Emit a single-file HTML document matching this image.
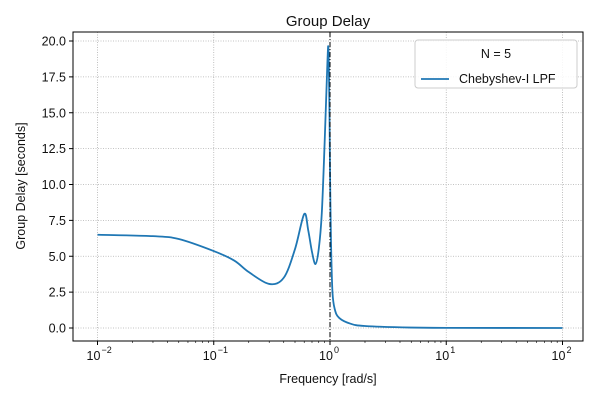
<!DOCTYPE html>
<html><head><meta charset="utf-8"><style>
body{margin:0;background:#fff;}
svg text{font-family:"Liberation Sans","DejaVu Sans",sans-serif;fill:#111;}
</style></head><body>
<svg id="c" width="600" height="400" xmlns="http://www.w3.org/2000/svg"></svg>
<script>
const freqs=[0.01,0.03,0.05,0.1,0.15,0.2,0.3,0.4,0.5,0.6,0.65,0.7,0.75,0.8,0.85,0.9,0.95,0.97,0.99,1.0,1.02,1.05,1.1,1.2,1.5,2,5,10,100];
const delays=[6.5,6.4,6.2,5.36,4.7,3.9,3.07,3.5,5.5,7.94,6.8,5.3,4.46,5.5,8,13,18.5,19.37,15,11,6,2.5,1.3,0.7,0.3,0.14,0.03,0.01,0];
const yTicks=[0,2.5,5,7.5,10,12.5,15,17.5,20];
const yTickLabels=["0.0","2.5","5.0","7.5","10.0","12.5","15.0","17.5","20.0"];
const xDecades=[-2,-1,0,1,2];
const NS="http://www.w3.org/2000/svg";
const svg=document.getElementById('c');
const L=73,R=583,T=32,B=341;
const X=f=>330+Math.log10(f)*116.25;
const Y=v=>328-v*14.35;
function mk(tag,attrs,parent){const e=document.createElementNS(NS,tag);for(const k in attrs)e.setAttribute(k,attrs[k]);(parent||svg).appendChild(e);return e;}
const grid=mk('g',{});


xDecades.forEach(d=>{mk('line',{x1:X(10**d),x2:X(10**d),y1:T,y2:B,stroke:'#b0b0b0','stroke-width':0.8,'stroke-dasharray':'1,1.5'},grid);});
yTicks.forEach(v=>{mk('line',{x1:L,x2:R,y1:Y(v),y2:Y(v),stroke:'#b0b0b0','stroke-width':0.8,'stroke-dasharray':'1,1.5'},grid);});
const xt=mk('g',{});


xDecades.forEach(d=>{const x=X(10**d);mk('line',{x1:x,x2:x,y1:B,y2:B+4,stroke:'#000'},xt);
 const t=mk('text',{x:x-4,y:B+19,'font-size':12.5,'text-anchor':'middle'},xt);t.textContent='10';
 const s=mk('text',{x:x+4,y:B+12,'font-size':9,'text-anchor':'start'},xt);s.textContent=String(d).replace('-','−');
 for(let k=2;k<10&&d<2;k++){const xm=X(k*10**d);mk('line',{x1:xm,x2:xm,y1:B,y2:B+2,stroke:'#000','stroke-width':0.6},xt);}
});
const yt=mk('g',{});


yTicks.forEach((v,i)=>{const y=Y(v);mk('line',{x1:L-4,x2:L,y1:y,y2:y,stroke:'#000'},yt);
 const t=mk('text',{x:L-7,y:y+4.5,'font-size':12.5,'text-anchor':'end'},yt);t.textContent=yTickLabels[i];});
const pts=freqs.map((f,i)=>[X(f),Y(delays[i])]);
let d=`M${pts[0][0]},${pts[0][1]}`;
for(let i=0;i<pts.length-1;i++){const p0=pts[Math.max(0,i-1)],p1=pts[i],p2=pts[i+1],p3=pts[Math.min(pts.length-1,i+2)];
 const c1=[p1[0]+(p2[0]-p0[0])/6,p1[1]+(p2[1]-p0[1])/6],c2=[p2[0]-(p3[0]-p1[0])/6,p2[1]-(p3[1]-p1[1])/6];
 d+=` C${c1[0]},${c1[1]} ${c2[0]},${c2[1]} ${p2[0]},${p2[1]}`;}
const line=mk('path',{d:d,fill:'none',stroke:'#1f77b4','stroke-width':1.8});


const vl=mk('line',{x1:X(1),x2:X(1),y1:T,y2:B,stroke:'#000','stroke-width':1,'stroke-dasharray':'5,2,1,2'});


</script>
<svg width="600" height="400" style="position:absolute;left:0;top:0" xmlns="http://www.w3.org/2000/svg">
<rect x="73" y="32" width="510" height="309" fill="none" stroke="#000" stroke-width="1"/>
<text x="328" y="26" font-size="15" text-anchor="middle">Group Delay</text>
<text x="328" y="383" font-size="12.5" text-anchor="middle">Frequency [rad/s]</text>
<text transform="translate(25,186) rotate(-90)" font-size="12.5" text-anchor="middle">Group Delay [seconds]</text>
<g>
<rect x="415" y="40" width="162" height="48" rx="3" fill="#fff" fill-opacity="0.85" stroke="#ccc"/>
<text x="496" y="58" font-size="12.5" text-anchor="middle">N = 5</text>
<line x1="421" x2="449" y1="79" y2="79" stroke="#1f77b4" stroke-width="1.8"/>
<text x="459" y="83" font-size="12.5">Chebyshev-I LPF</text>
</g>
</svg>
</body></html>
